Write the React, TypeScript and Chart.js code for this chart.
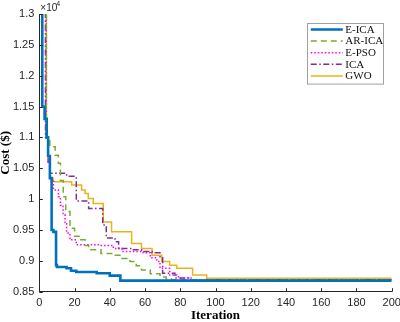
import React, { useEffect, useRef } from "react";
import { Chart, registerables } from "chart.js";
Chart.register(...registerables);

const seriesNames = ["E-ICA", "AR-ICA", "E-PSO", "ICA", "GWO"];

const eicaIter = [1, 1.7, 3, 4.2, 5, 6, 7, 8, 9.5, 10, 15.5, 18, 21, 32.6, 40, 46, 200];
const eicaCost = [1.6, 1.15, 1.13, 1.1, 1.07, 1.034, 0.95, 0.947, 0.893, 0.89, 0.888, 0.884, 0.882, 0.88, 0.876, 0.868, 0.868];

const aricaIter = [1, 4, 6, 9, 10.8, 12, 13.6, 15, 17.4, 20, 23, 26, 28, 35, 42, 47, 51.5, 55, 58, 63, 68.5, 72, 75, 200];
const aricaCost = [1.6, 1.1, 1.085, 1.071, 1.058, 1.03, 1.004, 0.98, 0.953, 0.94, 0.934, 0.925, 0.918, 0.912, 0.909, 0.904, 0.899, 0.892, 0.885, 0.879, 0.874, 0.871, 0.8695, 0.8695];

const epsoIter = [1, 4, 5, 6, 8, 10.8, 12, 13.5, 14.6, 15.5, 17.4, 21, 34, 42, 47, 59, 63, 66.6, 68.5, 74, 79, 87, 200];
const epsoCost = [1.6, 1.1, 1.058, 1.031, 1.015, 1.004, 0.99, 0.975, 0.96, 0.945, 0.934, 0.926, 0.925, 0.92, 0.915, 0.913, 0.905, 0.899, 0.888, 0.877, 0.872, 0.8695, 0.8695];

const icaIter = [1, 3.5, 5, 6, 15.5, 21, 28, 36, 38, 43, 45, 53, 58, 64, 68.5, 70, 77, 86, 200];
const icaCost = [1.6, 1.1, 1.06, 1.042, 1.037, 0.997, 0.985, 0.958, 0.937, 0.931, 0.92, 0.918, 0.915, 0.913, 0.905, 0.88, 0.872, 0.8695, 0.8695];

const gwoIter = [1, 4, 5, 6, 8, 18.4, 24, 26, 27.8, 30.6, 36.3, 41, 52.4, 58, 64, 69.5, 74, 78, 87, 95, 200];
const gwoCost = [1.6, 1.1, 1.065, 1.034, 1.028, 1.023, 1.015, 1.009, 1.001, 0.993, 0.963, 0.947, 0.928, 0.92, 0.909, 0.899, 0.893, 0.888, 0.877, 0.8717, 0.8717];

const xTicks = [0, 20, 40, 60, 80, 100, 120, 140, 160, 180, 200];
const yTicks = [0.85, 0.9, 0.95, 1, 1.05, 1.1, 1.15, 1.2, 1.25, 1.3];
const yTickLabels = ["0.85", "0.9", "0.95", "1", "1.05", "1.1", "1.15", "1.2", "1.25", "1.3"];

const colors = ["#0072BD", "#77AC30", "#FF00FF", "#7E2F8E", "#EDB120"];
const widths = [2.6, 1.5, 1.5, 1.5, 1.5];
const dashes = [[], [6, 4], [1.5, 2], [6, 2.5, 1.5, 2.5], []];

const axisColor = "#262626";

const overlayPlugin = {
  id: "overlay",
  afterDraw(chart: any) {
    const ctx = chart.ctx;
    const { left, top, bottom } = chart.chartArea;
    const xs = chart.scales.x;
    const ys = chart.scales.y;
    ctx.save();
    ctx.strokeStyle = axisColor;
    ctx.lineWidth = 1;
    ctx.setLineDash([]);
    ctx.beginPath();
    xTicks.forEach((v) => {
      const px = Math.round(xs.getPixelForValue(v)) + 0.5;
      ctx.moveTo(px, bottom);
      ctx.lineTo(px, bottom - 3.5);
    });
    yTicks.forEach((v) => {
      const py = Math.round(ys.getPixelForValue(v)) + 0.5;
      ctx.moveTo(left, py);
      ctx.lineTo(left + 3.5, py);
    });
    ctx.stroke();

    ctx.fillStyle = axisColor;
    ctx.textBaseline = "alphabetic";
    ctx.textAlign = "left";
    ctx.font = "10px 'Liberation Sans', Arial, sans-serif";
    ctx.fillText("\u00d710", left + 1, top - 3);
    ctx.font = "7px 'Liberation Sans', Arial, sans-serif";
    ctx.fillText("4", left + 17, top - 8);

    const bx = chart.chartArea.right - 84.4;
    const by = top + 8.7;
    const bw = 76;
    const bh = 60.6;
    ctx.fillStyle = "#ffffff";
    ctx.fillRect(bx, by, bw, bh);
    ctx.strokeStyle = "#a0a0a0";
    ctx.lineWidth = 1;
    ctx.strokeRect(Math.round(bx) + 0.5, Math.round(by) + 0.5, bw, bh);
    chart.data.datasets.forEach((ds: any, i: number) => {
      const cy = by + 6.8 + i * 11.6;
      ctx.strokeStyle = ds.borderColor;
      ctx.lineWidth = ds.borderWidth;
      ctx.setLineDash(ds.borderDash || []);
      ctx.beginPath();
      ctx.moveTo(bx + 3.5, cy);
      ctx.lineTo(bx + 35.5, cy);
      ctx.stroke();
      ctx.setLineDash([]);
      ctx.fillStyle = "#111";
      ctx.font = "11px 'Liberation Serif', 'Times New Roman', serif";
      ctx.textBaseline = "middle";
      ctx.fillText(ds.label, bx + 38, cy + 0.5);
    });
    ctx.restore();
  },
};

export default function App() {
  const ref = useRef<HTMLCanvasElement | null>(null);
  useEffect(() => {
    document.body.style.margin = "0";
    const canvas = ref.current;
    if (!canvas) return;
    const iters = [eicaIter, aricaIter, epsoIter, icaIter, gwoIter];
    const costs = [eicaCost, aricaCost, epsoCost, icaCost, gwoCost];
    const datasets = seriesNames.map((name, i) => ({
      label: name,
      data: iters[i].map((x, j) => ({ x, y: costs[i][j] })),
      borderColor: colors[i],
      backgroundColor: colors[i],
      borderWidth: widths[i],
      borderDash: dashes[i],
      pointRadius: 0,
      stepped: "before" as const,
      fill: false,
      tension: 0,
    }));
    const tickFont = { family: "'Liberation Sans', Arial, sans-serif", size: 11 };
    const titleFont = { family: "'Liberation Serif', 'Times New Roman', serif", size: 13, weight: "bold" as const, lineHeight: 1 };
    const chart = new Chart(canvas, {
      type: "line",
      data: { datasets },
      options: {
        responsive: false,
        animation: false,
        devicePixelRatio: 1,
        layout: { padding: { top: 14, right: 8.3, bottom: 0, left: 0 } },
        plugins: { legend: { display: false }, tooltip: { enabled: false } },
        scales: {
          x: {
            type: "linear",
            min: 0,
            max: 200,
            afterFit: (s: any) => { s.height = 30.3; s.paddingRight = 0; s.paddingLeft = 0; },
            afterBuildTicks: (s: any) => { s.ticks = xTicks.map((v) => ({ value: v })); },
            grid: { display: false, drawTicks: false },
            border: { display: true, color: axisColor, width: 1 },
            ticks: { padding: 5, font: tickFont, color: axisColor, maxRotation: 0, autoSkip: false, callback: (v: any) => String(v) },
            title: { display: true, text: "Iteration", font: titleFont, color: "#000", padding: { top: 0, bottom: 0 } },
          },
          y: {
            type: "linear",
            min: 0.85,
            max: 1.3,
            afterFit: (s: any) => { s.width = 39.3; s.paddingTop = 0; s.paddingBottom = 0; },
            afterBuildTicks: (s: any) => { s.ticks = yTicks.map((v) => ({ value: v })); },
            grid: { display: false, drawTicks: false },
            border: { display: true, color: axisColor, width: 1 },
            ticks: {
              padding: 5,
              font: tickFont,
              color: axisColor,
              autoSkip: false,
              callback: (v: any) => {
                const idx = yTicks.findIndex((t) => Math.abs(t - v) < 1e-9);
                return idx >= 0 ? yTickLabels[idx] : "";
              },
            },
            title: { display: true, text: "Cost ($)", font: titleFont, color: "#000", padding: { top: -1, bottom: 0 } },
          },
        },
      },
      plugins: [overlayPlugin],
    });
    return () => chart.destroy();
  }, []);
  return (
    <div style={{ width: 400, height: 322, background: "#fff" }}>
      <canvas ref={ref} width={400} height={322} style={{ display: "block" }} />
    </div>
  );
}
